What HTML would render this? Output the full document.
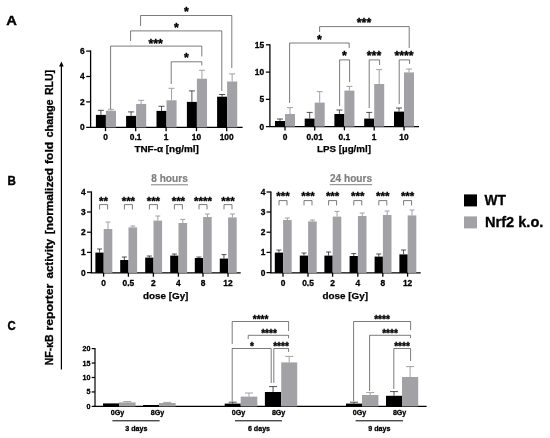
<!DOCTYPE html>
<html><head><meta charset="utf-8"><title>NF-κB reporter activity</title>
<style>
html,body{margin:0;padding:0;background:#fff;}
svg{display:block;font-family:"Liberation Sans",sans-serif;font-weight:bold;}
.tk{font-size:8.4px;fill:#000;stroke:#000;stroke-width:0.3px;}
.tc{font-size:7.1px;fill:#000;stroke:#000;stroke-width:0.3px;}
.ax{font-size:9.8px;fill:#000;stroke:#000;stroke-width:0.25px;}
.st{fill:#000;stroke:#000;stroke-width:0.35px;}
.pl{font-size:13px;fill:#000;stroke:#000;stroke-width:0.4px;}
.vt{font-size:11px;fill:#000;stroke:#000;stroke-width:0.3px;}
.hd{font-size:10.3px;fill:#808080;stroke:#808080;stroke-width:0.2px;}
.lg{font-size:14px;fill:#000;stroke:#000;stroke-width:0.3px;}
</style></head><body>
<svg width="550" height="438" viewBox="0 0 550 438">
<rect width="550" height="438" fill="#fff"/>
<text x="6.3" y="25" class="pl" textLength="10.6" lengthAdjust="spacingAndGlyphs">A</text>
<text x="7.6" y="185" class="pl" textLength="8.4" lengthAdjust="spacingAndGlyphs">B</text>
<text x="7.4" y="330.4" class="pl" textLength="8.2" lengthAdjust="spacingAndGlyphs">C</text>
<text transform="translate(52.9 365.6) rotate(-90)" class="vt"><tspan x="0.4" textLength="30.8" lengthAdjust="spacingAndGlyphs">NF-κB</tspan> <tspan x="35.1" textLength="46.8" lengthAdjust="spacingAndGlyphs">reporter</tspan> <tspan x="87.1" textLength="39.7" lengthAdjust="spacingAndGlyphs">activity</tspan> <tspan x="131.4" textLength="66.3" lengthAdjust="spacingAndGlyphs">[normalized</tspan> <tspan x="201.7" textLength="22.0" lengthAdjust="spacingAndGlyphs">fold</tspan> <tspan x="228.0" textLength="38.3" lengthAdjust="spacingAndGlyphs">change</tspan> <tspan x="270.5" textLength="25.1" lengthAdjust="spacingAndGlyphs">RLU]</tspan></text>
<path d="M61.4 369.4V65" stroke="#000" stroke-width="1.2"/>
<path d="M61.4 61.6L59.1 66.4H63.7Z" fill="#000"/>
<path d="M90.60 50.45V127.40" stroke="#000" stroke-width="1.3" fill="none"/>
<path d="M89.95 127.40H242.60" stroke="#000" stroke-width="1.3" fill="none"/>
<path d="M86.20 127.40H90.60" stroke="#000" stroke-width="1.25"/>
<text x="84.60" y="130.35" class="tk" text-anchor="end">0</text>
<path d="M86.20 101.90H90.60" stroke="#000" stroke-width="1.25"/>
<text x="84.60" y="104.85" class="tk" text-anchor="end">2</text>
<path d="M86.20 76.50H90.60" stroke="#000" stroke-width="1.25"/>
<text x="84.60" y="79.45" class="tk" text-anchor="end">4</text>
<path d="M86.20 51.10H90.60" stroke="#000" stroke-width="1.25"/>
<text x="84.60" y="54.05" class="tk" text-anchor="end">6</text>
<rect x="95.90" y="114.90" width="10.00" height="12.50" fill="#000"/>
<path d="M100.90 114.90V110.30M97.90 110.30H103.90" stroke="#1a1a1a" stroke-width="0.75" fill="none"/>
<rect x="105.90" y="110.70" width="10.10" height="16.70" fill="#a2a2a6"/>
<path d="M110.95 110.70V109.30M107.95 109.30H113.95" stroke="#a2a2a6" stroke-width="1" fill="none"/>
<path d="M105.50 127.40V131.20" stroke="#000" stroke-width="1.3"/>
<text x="105.50" y="139.60" class="tk" text-anchor="middle">0</text>
<rect x="126.10" y="115.90" width="10.00" height="11.50" fill="#000"/>
<path d="M131.10 115.90V111.90M128.10 111.90H134.10" stroke="#1a1a1a" stroke-width="0.75" fill="none"/>
<rect x="136.10" y="103.90" width="10.10" height="23.50" fill="#a2a2a6"/>
<path d="M141.15 103.90V100.30M138.15 100.30H144.15" stroke="#a2a2a6" stroke-width="1" fill="none"/>
<path d="M135.70 127.40V131.20" stroke="#000" stroke-width="1.3"/>
<text x="135.70" y="139.60" class="tk" text-anchor="middle">0.1</text>
<rect x="156.50" y="110.90" width="10.00" height="16.50" fill="#000"/>
<path d="M161.50 110.90V106.30M158.50 106.30H164.50" stroke="#1a1a1a" stroke-width="0.75" fill="none"/>
<rect x="166.50" y="100.30" width="10.10" height="27.10" fill="#a2a2a6"/>
<path d="M171.55 100.30V88.30M168.55 88.30H174.55" stroke="#a2a2a6" stroke-width="1" fill="none"/>
<path d="M166.10 127.40V131.20" stroke="#000" stroke-width="1.3"/>
<text x="166.10" y="139.60" class="tk" text-anchor="middle">1</text>
<rect x="186.90" y="101.90" width="10.00" height="25.50" fill="#000"/>
<path d="M191.90 101.90V90.90M188.90 90.90H194.90" stroke="#1a1a1a" stroke-width="0.75" fill="none"/>
<rect x="196.90" y="78.70" width="10.10" height="48.70" fill="#a2a2a6"/>
<path d="M201.95 78.70V70.30M198.95 70.30H204.95" stroke="#a2a2a6" stroke-width="1" fill="none"/>
<path d="M196.50 127.40V131.20" stroke="#000" stroke-width="1.3"/>
<text x="196.50" y="139.60" class="tk" text-anchor="middle">10</text>
<rect x="217.10" y="96.70" width="10.00" height="30.70" fill="#000"/>
<path d="M222.10 96.70V94.50M219.10 94.50H225.10" stroke="#1a1a1a" stroke-width="0.75" fill="none"/>
<rect x="227.10" y="81.50" width="10.10" height="45.90" fill="#a2a2a6"/>
<path d="M232.15 81.50V73.90M229.15 73.90H235.15" stroke="#a2a2a6" stroke-width="1" fill="none"/>
<path d="M226.70 127.40V131.20" stroke="#000" stroke-width="1.3"/>
<text x="226.70" y="139.60" class="tk" text-anchor="middle">100</text>
<text x="166.6" y="152.4" class="ax" text-anchor="middle" textLength="64.4" lengthAdjust="spacingAndGlyphs">TNF-α [ng/ml]</text>
<path d="M140.60 26.00V15.50H231.80V68.00" stroke="#444" stroke-width="0.7" fill="none"/>
<text x="186.40" y="16.17" class="st" font-size="12.3" text-anchor="middle">*</text>
<path d="M130.60 41.00V30.90H221.80V91.00" stroke="#444" stroke-width="0.7" fill="none"/>
<text x="176.40" y="31.57" class="st" font-size="12.3" text-anchor="middle">*</text>
<path d="M110.60 109.00V46.10H201.80V56.40" stroke="#444" stroke-width="0.7" fill="none"/>
<text x="155.60" y="47.57" class="st" font-size="12.3" text-anchor="middle">***</text>
<path d="M171.20 84.00V61.80H201.80V65.40" stroke="#444" stroke-width="0.7" fill="none"/>
<text x="186.40" y="62.17" class="st" font-size="12.3" text-anchor="middle">*</text>
<path d="M269.90 44.25V126.60" stroke="#000" stroke-width="1.3" fill="none"/>
<path d="M269.25 126.60H419.00" stroke="#000" stroke-width="1.3" fill="none"/>
<path d="M265.90 126.60H269.90" stroke="#000" stroke-width="1.25"/>
<text x="264.10" y="129.55" class="tk" text-anchor="end">0</text>
<path d="M265.90 99.35H269.90" stroke="#000" stroke-width="1.25"/>
<text x="264.10" y="102.30" class="tk" text-anchor="end">5</text>
<path d="M265.90 72.10H269.90" stroke="#000" stroke-width="1.25"/>
<text x="264.10" y="75.05" class="tk" text-anchor="end">10</text>
<path d="M265.90 44.80H269.90" stroke="#000" stroke-width="1.25"/>
<text x="264.10" y="47.75" class="tk" text-anchor="end">15</text>
<rect x="275.00" y="121.00" width="10.00" height="5.60" fill="#000"/>
<path d="M280.00 121.00V119.00M277.00 119.00H283.00" stroke="#1a1a1a" stroke-width="0.75" fill="none"/>
<rect x="285.00" y="114.00" width="10.00" height="12.60" fill="#a2a2a6"/>
<path d="M290.00 114.00V107.60M287.00 107.60H293.00" stroke="#a2a2a6" stroke-width="1" fill="none"/>
<path d="M285.00 126.60V130.40" stroke="#000" stroke-width="1.3"/>
<text x="285.00" y="139.60" class="tk" text-anchor="middle">0</text>
<rect x="304.70" y="118.60" width="10.00" height="8.00" fill="#000"/>
<path d="M309.70 118.60V112.40M306.70 112.40H312.70" stroke="#1a1a1a" stroke-width="0.75" fill="none"/>
<rect x="314.70" y="102.60" width="10.00" height="24.00" fill="#a2a2a6"/>
<path d="M319.70 102.60V91.60M316.70 91.60H322.70" stroke="#a2a2a6" stroke-width="1" fill="none"/>
<path d="M314.70 126.60V130.40" stroke="#000" stroke-width="1.3"/>
<text x="314.70" y="139.60" class="tk" text-anchor="middle">0.01</text>
<rect x="334.40" y="114.00" width="10.00" height="12.60" fill="#000"/>
<path d="M339.40 114.00V110.00M336.40 110.00H342.40" stroke="#1a1a1a" stroke-width="0.75" fill="none"/>
<rect x="344.40" y="90.60" width="10.00" height="36.00" fill="#a2a2a6"/>
<path d="M349.40 90.60V86.40M346.40 86.40H352.40" stroke="#a2a2a6" stroke-width="1" fill="none"/>
<path d="M344.40 126.60V130.40" stroke="#000" stroke-width="1.3"/>
<text x="344.40" y="139.60" class="tk" text-anchor="middle">0.1</text>
<rect x="364.20" y="118.60" width="10.00" height="8.00" fill="#000"/>
<path d="M369.20 118.60V112.40M366.20 112.40H372.20" stroke="#1a1a1a" stroke-width="0.75" fill="none"/>
<rect x="374.20" y="84.00" width="10.00" height="42.60" fill="#a2a2a6"/>
<path d="M379.20 84.00V69.60M376.20 69.60H382.20" stroke="#a2a2a6" stroke-width="1" fill="none"/>
<path d="M374.20 126.60V130.40" stroke="#000" stroke-width="1.3"/>
<text x="374.20" y="139.60" class="tk" text-anchor="middle">1</text>
<rect x="394.00" y="111.60" width="10.00" height="15.00" fill="#000"/>
<path d="M399.00 111.60V108.00M396.00 108.00H402.00" stroke="#1a1a1a" stroke-width="0.75" fill="none"/>
<rect x="404.00" y="72.40" width="10.00" height="54.20" fill="#a2a2a6"/>
<path d="M409.00 72.40V69.00M406.00 69.00H412.00" stroke="#a2a2a6" stroke-width="1" fill="none"/>
<path d="M404.00 126.60V130.40" stroke="#000" stroke-width="1.3"/>
<text x="404.00" y="139.60" class="tk" text-anchor="middle">10</text>
<text x="344" y="152.1" class="ax" text-anchor="middle" textLength="54" lengthAdjust="spacingAndGlyphs">LPS [µg/ml]</text>
<path d="M319.60 32.00V26.60H409.20V48.00" stroke="#444" stroke-width="0.7" fill="none"/>
<text x="364.00" y="27.17" class="st" font-size="12.3" text-anchor="middle">***</text>
<path d="M289.60 103.00V43.00H349.20V48.00" stroke="#444" stroke-width="0.7" fill="none"/>
<text x="319.40" y="43.57" class="st" font-size="12.3" text-anchor="middle">*</text>
<path d="M339.60 106.00V59.90H349.60V82.00" stroke="#444" stroke-width="0.7" fill="none"/>
<text x="344.40" y="60.17" class="st" font-size="12.3" text-anchor="middle">*</text>
<path d="M369.20 108.00V59.90H379.60V65.00" stroke="#444" stroke-width="0.7" fill="none"/>
<text x="374.00" y="60.17" class="st" font-size="12.3" text-anchor="middle">***</text>
<path d="M399.20 104.00V59.90H409.60V64.00" stroke="#444" stroke-width="0.7" fill="none"/>
<text x="404.00" y="60.17" class="st" font-size="12.3" text-anchor="middle">****</text>
<text x="151.2" y="182.4" class="hd" textLength="36.6" lengthAdjust="spacingAndGlyphs">8 hours</text>
<path d="M151 184.8H188" stroke="#808080" stroke-width="1"/>
<path d="M91.40 191.45V272.90" stroke="#000" stroke-width="1.35" fill="none"/>
<path d="M90.73 272.90H240.70" stroke="#000" stroke-width="1.35" fill="none"/>
<path d="M87.00 272.60H91.40" stroke="#000" stroke-width="1.25"/>
<text x="85.60" y="275.55" class="tk" text-anchor="end">0</text>
<path d="M87.00 252.40H91.40" stroke="#000" stroke-width="1.25"/>
<text x="85.60" y="255.35" class="tk" text-anchor="end">1</text>
<path d="M87.00 232.20H91.40" stroke="#000" stroke-width="1.25"/>
<text x="85.60" y="235.15" class="tk" text-anchor="end">2</text>
<path d="M87.00 212.00H91.40" stroke="#000" stroke-width="1.25"/>
<text x="85.60" y="214.95" class="tk" text-anchor="end">3</text>
<path d="M87.00 192.00H91.40" stroke="#000" stroke-width="1.25"/>
<text x="85.60" y="194.95" class="tk" text-anchor="end">4</text>
<rect x="95.40" y="252.60" width="8.30" height="20.30" fill="#000"/>
<path d="M99.55 252.60V249.00M97.05 249.00H102.05" stroke="#1a1a1a" stroke-width="0.75" fill="none"/>
<rect x="103.70" y="229.00" width="8.60" height="43.90" fill="#a2a2a6"/>
<path d="M108.00 229.00V222.00M105.50 222.00H110.50" stroke="#a2a2a6" stroke-width="1" fill="none"/>
<path d="M103.60 272.90V276.70" stroke="#000" stroke-width="1.3"/>
<text x="103.60" y="286.00" class="tk" text-anchor="middle">0</text>
<path d="M99.60 209.40V204.60H107.60V209.40" stroke="#444" stroke-width="0.7" fill="none"/>
<text x="103.60" y="204.61" class="st" font-size="11.5" text-anchor="middle">**</text>
<rect x="120.20" y="260.00" width="8.30" height="12.90" fill="#000"/>
<path d="M124.35 260.00V257.00M121.85 257.00H126.85" stroke="#1a1a1a" stroke-width="0.75" fill="none"/>
<rect x="128.50" y="227.40" width="8.60" height="45.50" fill="#a2a2a6"/>
<path d="M132.80 227.40V226.00M130.30 226.00H135.30" stroke="#a2a2a6" stroke-width="1" fill="none"/>
<path d="M128.40 272.90V276.70" stroke="#000" stroke-width="1.3"/>
<text x="128.40" y="286.00" class="tk" text-anchor="middle">0.5</text>
<path d="M124.40 209.40V204.60H132.40V209.40" stroke="#444" stroke-width="0.7" fill="none"/>
<text x="128.40" y="204.61" class="st" font-size="11.5" text-anchor="middle">***</text>
<rect x="145.20" y="257.60" width="8.30" height="15.30" fill="#000"/>
<path d="M149.35 257.60V256.00M146.85 256.00H151.85" stroke="#1a1a1a" stroke-width="0.75" fill="none"/>
<rect x="153.50" y="220.60" width="8.60" height="52.30" fill="#a2a2a6"/>
<path d="M157.80 220.60V216.00M155.30 216.00H160.30" stroke="#a2a2a6" stroke-width="1" fill="none"/>
<path d="M153.40 272.90V276.70" stroke="#000" stroke-width="1.3"/>
<text x="153.40" y="286.00" class="tk" text-anchor="middle">2</text>
<path d="M149.40 209.40V204.60H157.40V209.40" stroke="#444" stroke-width="0.7" fill="none"/>
<text x="153.40" y="204.61" class="st" font-size="11.5" text-anchor="middle">***</text>
<rect x="170.20" y="255.60" width="8.30" height="17.30" fill="#000"/>
<path d="M174.35 255.60V254.00M171.85 254.00H176.85" stroke="#1a1a1a" stroke-width="0.75" fill="none"/>
<rect x="178.50" y="223.00" width="8.60" height="49.90" fill="#a2a2a6"/>
<path d="M182.80 223.00V219.40M180.30 219.40H185.30" stroke="#a2a2a6" stroke-width="1" fill="none"/>
<path d="M178.40 272.90V276.70" stroke="#000" stroke-width="1.3"/>
<text x="178.40" y="286.00" class="tk" text-anchor="middle">4</text>
<path d="M174.40 209.40V204.60H182.40V209.40" stroke="#444" stroke-width="0.7" fill="none"/>
<text x="178.40" y="204.61" class="st" font-size="11.5" text-anchor="middle">***</text>
<rect x="194.80" y="258.00" width="8.30" height="14.90" fill="#000"/>
<path d="M198.95 258.00V257.00M196.45 257.00H201.45" stroke="#1a1a1a" stroke-width="0.75" fill="none"/>
<rect x="203.10" y="217.00" width="8.60" height="55.90" fill="#a2a2a6"/>
<path d="M207.40 217.00V214.00M204.90 214.00H209.90" stroke="#a2a2a6" stroke-width="1" fill="none"/>
<path d="M203.00 272.90V276.70" stroke="#000" stroke-width="1.3"/>
<text x="203.00" y="286.00" class="tk" text-anchor="middle">8</text>
<path d="M199.00 209.40V204.60H207.00V209.40" stroke="#444" stroke-width="0.7" fill="none"/>
<text x="203.00" y="204.61" class="st" font-size="11.5" text-anchor="middle">****</text>
<rect x="219.80" y="258.60" width="8.30" height="14.30" fill="#000"/>
<path d="M223.95 258.60V254.60M221.45 254.60H226.45" stroke="#1a1a1a" stroke-width="0.75" fill="none"/>
<rect x="228.10" y="217.40" width="8.60" height="55.50" fill="#a2a2a6"/>
<path d="M232.40 217.40V214.00M229.90 214.00H234.90" stroke="#a2a2a6" stroke-width="1" fill="none"/>
<path d="M228.00 272.90V276.70" stroke="#000" stroke-width="1.3"/>
<text x="228.00" y="286.00" class="tk" text-anchor="middle">12</text>
<path d="M224.00 209.40V204.60H232.00V209.40" stroke="#444" stroke-width="0.7" fill="none"/>
<text x="228.00" y="204.61" class="st" font-size="11.5" text-anchor="middle">***</text>
<text x="165.7" y="299" class="ax" text-anchor="middle" textLength="45.4" lengthAdjust="spacingAndGlyphs">dose [Gy]</text>
<text x="330" y="182.3" class="hd" textLength="42" lengthAdjust="spacingAndGlyphs">24 hours</text>
<path d="M329.8 184.7H372.2" stroke="#808080" stroke-width="1"/>
<path d="M270.90 191.45V272.90" stroke="#000" stroke-width="1.35" fill="none"/>
<path d="M270.22 272.90H420.70" stroke="#000" stroke-width="1.35" fill="none"/>
<path d="M266.50 272.60H270.90" stroke="#000" stroke-width="1.25"/>
<text x="265.40" y="275.55" class="tk" text-anchor="end">0</text>
<path d="M266.50 252.40H270.90" stroke="#000" stroke-width="1.25"/>
<text x="265.40" y="255.35" class="tk" text-anchor="end">1</text>
<path d="M266.50 232.20H270.90" stroke="#000" stroke-width="1.25"/>
<text x="265.40" y="235.15" class="tk" text-anchor="end">2</text>
<path d="M266.50 212.00H270.90" stroke="#000" stroke-width="1.25"/>
<text x="265.40" y="214.95" class="tk" text-anchor="end">3</text>
<path d="M266.50 192.00H270.90" stroke="#000" stroke-width="1.25"/>
<text x="265.40" y="194.95" class="tk" text-anchor="end">4</text>
<rect x="274.80" y="252.60" width="8.30" height="20.30" fill="#000"/>
<path d="M278.95 252.60V250.00M276.45 250.00H281.45" stroke="#1a1a1a" stroke-width="0.75" fill="none"/>
<rect x="283.10" y="220.00" width="8.60" height="52.90" fill="#a2a2a6"/>
<path d="M287.40 220.00V218.00M284.90 218.00H289.90" stroke="#a2a2a6" stroke-width="1" fill="none"/>
<path d="M283.00 272.90V276.70" stroke="#000" stroke-width="1.3"/>
<text x="283.00" y="286.00" class="tk" text-anchor="middle">0</text>
<path d="M279.00 205.40V200.60H287.00V205.40" stroke="#444" stroke-width="0.7" fill="none"/>
<text x="283.00" y="200.21" class="st" font-size="11.5" text-anchor="middle">***</text>
<rect x="299.80" y="255.60" width="8.30" height="17.30" fill="#000"/>
<path d="M303.95 255.60V253.00M301.45 253.00H306.45" stroke="#1a1a1a" stroke-width="0.75" fill="none"/>
<rect x="308.10" y="221.40" width="8.60" height="51.50" fill="#a2a2a6"/>
<path d="M312.40 221.40V220.00M309.90 220.00H314.90" stroke="#a2a2a6" stroke-width="1" fill="none"/>
<path d="M308.00 272.90V276.70" stroke="#000" stroke-width="1.3"/>
<text x="308.00" y="286.00" class="tk" text-anchor="middle">0.5</text>
<path d="M304.00 205.40V200.60H312.00V205.40" stroke="#444" stroke-width="0.7" fill="none"/>
<text x="308.00" y="200.21" class="st" font-size="11.5" text-anchor="middle">***</text>
<rect x="324.40" y="255.60" width="8.30" height="17.30" fill="#000"/>
<path d="M328.55 255.60V252.00M326.05 252.00H331.05" stroke="#1a1a1a" stroke-width="0.75" fill="none"/>
<rect x="332.70" y="216.60" width="8.60" height="56.30" fill="#a2a2a6"/>
<path d="M337.00 216.60V211.40M334.50 211.40H339.50" stroke="#a2a2a6" stroke-width="1" fill="none"/>
<path d="M332.60 272.90V276.70" stroke="#000" stroke-width="1.3"/>
<text x="332.60" y="286.00" class="tk" text-anchor="middle">2</text>
<path d="M328.60 205.40V200.60H336.60V205.40" stroke="#444" stroke-width="0.7" fill="none"/>
<text x="332.60" y="200.21" class="st" font-size="11.5" text-anchor="middle">***</text>
<rect x="349.60" y="256.00" width="8.30" height="16.90" fill="#000"/>
<path d="M353.75 256.00V253.60M351.25 253.60H356.25" stroke="#1a1a1a" stroke-width="0.75" fill="none"/>
<rect x="357.90" y="216.00" width="8.60" height="56.90" fill="#a2a2a6"/>
<path d="M362.20 216.00V213.00M359.70 213.00H364.70" stroke="#a2a2a6" stroke-width="1" fill="none"/>
<path d="M357.80 272.90V276.70" stroke="#000" stroke-width="1.3"/>
<text x="357.80" y="286.00" class="tk" text-anchor="middle">4</text>
<path d="M353.80 205.40V200.60H361.80V205.40" stroke="#444" stroke-width="0.7" fill="none"/>
<text x="357.80" y="200.21" class="st" font-size="11.5" text-anchor="middle">***</text>
<rect x="374.60" y="256.60" width="8.30" height="16.30" fill="#000"/>
<path d="M378.75 256.60V254.00M376.25 254.00H381.25" stroke="#1a1a1a" stroke-width="0.75" fill="none"/>
<rect x="382.90" y="215.00" width="8.60" height="57.90" fill="#a2a2a6"/>
<path d="M387.20 215.00V211.00M384.70 211.00H389.70" stroke="#a2a2a6" stroke-width="1" fill="none"/>
<path d="M382.80 272.90V276.70" stroke="#000" stroke-width="1.3"/>
<text x="382.80" y="286.00" class="tk" text-anchor="middle">8</text>
<path d="M378.80 205.40V200.60H386.80V205.40" stroke="#444" stroke-width="0.7" fill="none"/>
<text x="382.80" y="200.21" class="st" font-size="11.5" text-anchor="middle">***</text>
<rect x="399.40" y="254.40" width="8.30" height="18.50" fill="#000"/>
<path d="M403.55 254.40V250.00M401.05 250.00H406.05" stroke="#1a1a1a" stroke-width="0.75" fill="none"/>
<rect x="407.70" y="215.40" width="8.60" height="57.50" fill="#a2a2a6"/>
<path d="M412.00 215.40V210.00M409.50 210.00H414.50" stroke="#a2a2a6" stroke-width="1" fill="none"/>
<path d="M407.60 272.90V276.70" stroke="#000" stroke-width="1.3"/>
<text x="407.60" y="286.00" class="tk" text-anchor="middle">12</text>
<path d="M403.60 205.40V200.60H411.60V205.40" stroke="#444" stroke-width="0.7" fill="none"/>
<text x="407.60" y="200.21" class="st" font-size="11.5" text-anchor="middle">***</text>
<text x="345.3" y="299" class="ax" text-anchor="middle" textLength="45.4" lengthAdjust="spacingAndGlyphs">dose [Gy]</text>
<rect x="464" y="194.4" width="13" height="12" fill="#000"/>
<rect x="464" y="216.4" width="13" height="12" fill="#a2a2a6"/>
<text x="484.6" y="205" class="lg" textLength="21.4" lengthAdjust="spacingAndGlyphs">WT</text>
<text x="485" y="226.6" class="lg" textLength="58.4" lengthAdjust="spacingAndGlyphs">Nrf2 k.o.</text>
<path d="M95.00 348.05V406.40" stroke="#000" stroke-width="1.2" fill="none"/>
<path d="M94.40 406.40H426.60" stroke="#000" stroke-width="1.2" fill="none"/>
<path d="M91.70 406.40H95.00" stroke="#000" stroke-width="1.25"/>
<text x="90.50" y="408.90" class="tc" text-anchor="end">0</text>
<path d="M91.70 391.95H95.00" stroke="#000" stroke-width="1.25"/>
<text x="90.50" y="394.45" class="tc" text-anchor="end">5</text>
<path d="M91.70 377.50H95.00" stroke="#000" stroke-width="1.25"/>
<text x="90.50" y="380.00" class="tc" text-anchor="end">10</text>
<path d="M91.70 363.05H95.00" stroke="#000" stroke-width="1.25"/>
<text x="90.50" y="365.55" class="tc" text-anchor="end">15</text>
<path d="M91.70 348.60H95.00" stroke="#000" stroke-width="1.25"/>
<text x="90.50" y="351.10" class="tc" text-anchor="end">20</text>
<rect x="103.00" y="403.40" width="16.00" height="3.00" fill="#000"/>
<rect x="119.00" y="402.40" width="16.60" height="4.00" fill="#a2a2a6"/>
<path d="M127.30 402.40V401.60M123.30 401.60H131.30" stroke="#a2a2a6" stroke-width="1" fill="none"/>
<rect x="143.00" y="405.00" width="16.00" height="1.40" fill="#000"/>
<rect x="159.00" y="403.00" width="16.60" height="3.40" fill="#a2a2a6"/>
<path d="M167.30 403.00V402.40M163.30 402.40H171.30" stroke="#a2a2a6" stroke-width="1" fill="none"/>
<text x="117.4" y="415.4" class="tc" text-anchor="middle">0Gy</text>
<text x="157.4" y="415.4" class="tc" text-anchor="middle">8Gy</text>
<path d="M112.4 420.8H159.6" stroke="#000" stroke-width="1"/>
<text x="136.4" y="430.6" class="tc" text-anchor="middle">3 days</text>
<rect x="224.70" y="403.60" width="16.00" height="2.80" fill="#000"/>
<path d="M232.70 403.60V402.20M228.70 402.20H236.70" stroke="#1a1a1a" stroke-width="0.75" fill="none"/>
<rect x="240.70" y="396.60" width="16.60" height="9.80" fill="#a2a2a6"/>
<path d="M249.00 396.60V393.00M245.00 393.00H253.00" stroke="#a2a2a6" stroke-width="1" fill="none"/>
<rect x="264.90" y="392.00" width="16.30" height="14.40" fill="#000"/>
<path d="M273.05 392.00V386.60M269.05 386.60H277.05" stroke="#1a1a1a" stroke-width="0.75" fill="none"/>
<rect x="281.20" y="362.40" width="16.00" height="44.00" fill="#a2a2a6"/>
<path d="M289.20 362.40V356.40M285.20 356.40H293.20" stroke="#a2a2a6" stroke-width="1" fill="none"/>
<text x="238.4" y="415.4" class="tc" text-anchor="middle">0Gy</text>
<text x="278.6" y="415.4" class="tc" text-anchor="middle">8Gy</text>
<path d="M235 420.8H282" stroke="#000" stroke-width="1"/>
<text x="259" y="430.6" class="tc" text-anchor="middle">6 days</text>
<rect x="346.00" y="403.60" width="16.00" height="2.80" fill="#000"/>
<path d="M354.00 403.60V402.20M350.00 402.20H358.00" stroke="#1a1a1a" stroke-width="0.75" fill="none"/>
<rect x="362.00" y="395.00" width="16.40" height="11.40" fill="#a2a2a6"/>
<path d="M370.20 395.00V392.60M366.20 392.60H374.20" stroke="#a2a2a6" stroke-width="1" fill="none"/>
<rect x="386.00" y="395.80" width="16.00" height="10.60" fill="#000"/>
<path d="M394.00 395.80V391.60M390.00 391.60H398.00" stroke="#1a1a1a" stroke-width="0.75" fill="none"/>
<rect x="402.00" y="377.00" width="16.20" height="29.40" fill="#a2a2a6"/>
<path d="M410.10 377.00V366.60M406.10 366.60H414.10" stroke="#a2a2a6" stroke-width="1" fill="none"/>
<text x="359.4" y="415.4" class="tc" text-anchor="middle">0Gy</text>
<text x="399.6" y="415.4" class="tc" text-anchor="middle">8Gy</text>
<path d="M355.6 420.8H403" stroke="#000" stroke-width="1"/>
<text x="379.4" y="430.6" class="tc" text-anchor="middle">9 days</text>
<path d="M232.20 344.00V321.50H288.60V331.00" stroke="#444" stroke-width="0.7" fill="none"/>
<text x="260.60" y="322.95" class="st" font-size="10" text-anchor="middle">****</text>
<path d="M248.20 339.00V335.30H288.60V338.40" stroke="#444" stroke-width="0.7" fill="none"/>
<text x="269.00" y="336.75" class="st" font-size="10" text-anchor="middle">****</text>
<path d="M232.20 401.60V348.50H271.20V383.00" stroke="#444" stroke-width="0.7" fill="none"/>
<text x="252.00" y="349.95" class="st" font-size="10" text-anchor="middle">*</text>
<path d="M273.80 383.00V348.50H288.60V352.00" stroke="#444" stroke-width="0.7" fill="none"/>
<text x="281.00" y="349.95" class="st" font-size="10" text-anchor="middle">****</text>
<path d="M353.60 401.00V321.50H410.60V330.00" stroke="#444" stroke-width="0.7" fill="none"/>
<text x="382.00" y="322.95" class="st" font-size="10" text-anchor="middle">****</text>
<path d="M369.60 391.00V335.30H410.60V338.00" stroke="#444" stroke-width="0.7" fill="none"/>
<text x="390.00" y="336.75" class="st" font-size="10" text-anchor="middle">****</text>
<path d="M393.80 389.00V348.50H410.60V361.00" stroke="#444" stroke-width="0.7" fill="none"/>
<text x="402.00" y="349.95" class="st" font-size="10" text-anchor="middle">****</text>
</svg>
</body></html>
